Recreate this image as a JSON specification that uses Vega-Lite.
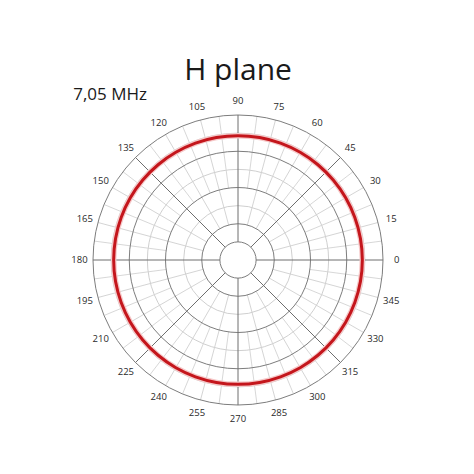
{
  "$schema": "https://vega.github.io/schema/vega-lite/v6.json",
  "width": 290,
  "height": 290,
  "autosize": {"type": "none"},
  "padding": {"left": 93, "top": 115, "right": 91, "bottom": 69},
  "background": "white",
  "config": {"view": {"stroke": null}, "font": "Open Sans"},
  "title": {"text": "H plane", "fontSize": 30, "font": "Open Sans", "fontWeight": "normal", "color": "#1a1a1a", "anchor": "middle", "frame": "group", "offset": 0},
  "datasets": {
    "rings_major": [{"r": 1}, {"r": 2}, {"r": 4}, {"r": 6}, {"r": 8}],
    "rings_minor": [{"r": 3}, {"r": 5}, {"r": 7}],
    "spokes_major": [{"angle": 0}, {"angle": 45}, {"angle": 90}, {"angle": 135}, {"angle": 180}, {"angle": 225}, {"angle": 270}, {"angle": 315}],
    "spokes_15": [{"angle": 15}, {"angle": 30}, {"angle": 60}, {"angle": 75}, {"angle": 105}, {"angle": 120}, {"angle": 150}, {"angle": 165}, {"angle": 195}, {"angle": 210}, {"angle": 240}, {"angle": 255}, {"angle": 285}, {"angle": 300}, {"angle": 330}, {"angle": 345}],
    "spokes_7": [{"angle": 7.5}, {"angle": 22.5}, {"angle": 37.5}, {"angle": 52.5}, {"angle": 67.5}, {"angle": 82.5}, {"angle": 97.5}, {"angle": 112.5}, {"angle": 127.5}, {"angle": 142.5}, {"angle": 157.5}, {"angle": 172.5}, {"angle": 187.5}, {"angle": 202.5}, {"angle": 217.5}, {"angle": 232.5}, {"angle": 247.5}, {"angle": 262.5}, {"angle": 277.5}, {"angle": 292.5}, {"angle": 307.5}, {"angle": 322.5}, {"angle": 337.5}, {"angle": 352.5}],
    "pattern": [
      {"angle": 0, "gain": 6.86}, {"angle": 10, "gain": 6.86}, {"angle": 20, "gain": 6.86}, {"angle": 30, "gain": 6.86},
      {"angle": 40, "gain": 6.86}, {"angle": 50, "gain": 6.86}, {"angle": 60, "gain": 6.86}, {"angle": 70, "gain": 6.86},
      {"angle": 80, "gain": 6.86}, {"angle": 90, "gain": 6.86}, {"angle": 100, "gain": 6.86}, {"angle": 110, "gain": 6.86},
      {"angle": 120, "gain": 6.86}, {"angle": 130, "gain": 6.86}, {"angle": 140, "gain": 6.86}, {"angle": 150, "gain": 6.86},
      {"angle": 160, "gain": 6.86}, {"angle": 170, "gain": 6.86}, {"angle": 180, "gain": 6.86}, {"angle": 190, "gain": 6.86},
      {"angle": 200, "gain": 6.86}, {"angle": 210, "gain": 6.86}, {"angle": 220, "gain": 6.86}, {"angle": 230, "gain": 6.86},
      {"angle": 240, "gain": 6.86}, {"angle": 250, "gain": 6.86}, {"angle": 260, "gain": 6.86}, {"angle": 270, "gain": 6.86},
      {"angle": 280, "gain": 6.86}, {"angle": 290, "gain": 6.86}, {"angle": 300, "gain": 6.86}, {"angle": 310, "gain": 6.86},
      {"angle": 320, "gain": 6.86}, {"angle": 330, "gain": 6.86}, {"angle": 340, "gain": 6.86}, {"angle": 350, "gain": 6.86}
    ],
    "labels": [{"angle": 0}, {"angle": 15}, {"angle": 30}, {"angle": 45}, {"angle": 60}, {"angle": 75}, {"angle": 90}, {"angle": 105}, {"angle": 120}, {"angle": 135}, {"angle": 150}, {"angle": 165}, {"angle": 180}, {"angle": 195}, {"angle": 210}, {"angle": 225}, {"angle": 240}, {"angle": 255}, {"angle": 270}, {"angle": 285}, {"angle": 300}, {"angle": 315}, {"angle": 330}, {"angle": 345}],
    "freq": [{"label": "7,05 MHz"}]
  },
  "layer": [
    {
      "data": {"name": "rings_minor"},
      "mark": {"type": "point", "shape": "circle", "filled": false, "color": "#c9c9c9", "opacity": 1, "strokeWidth": 0.9},
      "encoding": {
        "x": {"datum": 0, "type": "quantitative", "scale": {"domain": [-8, 8], "nice": false, "zero": false}, "axis": null},
        "y": {"datum": 0, "type": "quantitative", "scale": {"domain": [-8, 8], "nice": false, "zero": false}, "axis": null},
        "size": {"field": "r", "type": "quantitative", "scale": {"type": "pow", "exponent": 2, "domain": [0, 8], "range": [0, 84100], "zero": true}, "legend": null}
      }
    },
    {
      "data": {"name": "spokes_7"},
      "transform": [
        {"calculate": "4*cos(datum.angle*PI/180)", "as": "xa"},
        {"calculate": "4*sin(datum.angle*PI/180)", "as": "ya"},
        {"calculate": "8*cos(datum.angle*PI/180)", "as": "xb"},
        {"calculate": "8*sin(datum.angle*PI/180)", "as": "yb"}
      ],
      "mark": {"type": "rule", "color": "#d2d2d2", "strokeWidth": 0.9},
      "encoding": {
        "x": {"field": "xa", "type": "quantitative", "axis": null},
        "y": {"field": "ya", "type": "quantitative", "axis": null},
        "x2": {"field": "xb"},
        "y2": {"field": "yb"}
      }
    },
    {
      "data": {"name": "spokes_15"},
      "transform": [
        {"calculate": "2*cos(datum.angle*PI/180)", "as": "xa"},
        {"calculate": "2*sin(datum.angle*PI/180)", "as": "ya"},
        {"calculate": "8*cos(datum.angle*PI/180)", "as": "xb"},
        {"calculate": "8*sin(datum.angle*PI/180)", "as": "yb"}
      ],
      "mark": {"type": "rule", "color": "#cfcfcf", "strokeWidth": 0.9},
      "encoding": {
        "x": {"field": "xa", "type": "quantitative", "axis": null},
        "y": {"field": "ya", "type": "quantitative", "axis": null},
        "x2": {"field": "xb"},
        "y2": {"field": "yb"}
      }
    },
    {
      "data": {"name": "rings_major"},
      "mark": {"type": "point", "shape": "circle", "filled": false, "color": "#7d7d7d", "opacity": 1, "strokeWidth": 1},
      "encoding": {
        "x": {"datum": 0, "type": "quantitative", "axis": null},
        "y": {"datum": 0, "type": "quantitative", "axis": null},
        "size": {"field": "r", "type": "quantitative", "legend": null}
      }
    },
    {
      "data": {"name": "spokes_major"},
      "transform": [
        {"calculate": "1*cos(datum.angle*PI/180)", "as": "xa"},
        {"calculate": "1*sin(datum.angle*PI/180)", "as": "ya"},
        {"calculate": "8*cos(datum.angle*PI/180)", "as": "xb"},
        {"calculate": "8*sin(datum.angle*PI/180)", "as": "yb"}
      ],
      "mark": {"type": "rule", "color": "#6e6e6e", "strokeWidth": 1},
      "encoding": {
        "x": {"field": "xa", "type": "quantitative", "axis": null},
        "y": {"field": "ya", "type": "quantitative", "axis": null},
        "x2": {"field": "xb"},
        "y2": {"field": "yb"}
      }
    },
    {
      "data": {"name": "pattern"},
      "transform": [
        {"calculate": "datum.gain*cos(datum.angle*PI/180)", "as": "px"},
        {"calculate": "datum.gain*sin(datum.angle*PI/180)", "as": "py"}
      ],
      "mark": {"type": "line", "color": "#f6c9c9", "strokeWidth": 5.5, "interpolate": "cardinal-closed"},
      "encoding": {
        "x": {"field": "px", "type": "quantitative", "axis": null},
        "y": {"field": "py", "type": "quantitative", "axis": null},
        "order": {"field": "angle", "type": "quantitative"}
      }
    },
    {
      "data": {"name": "pattern"},
      "transform": [
        {"calculate": "datum.gain*cos(datum.angle*PI/180)", "as": "px"},
        {"calculate": "datum.gain*sin(datum.angle*PI/180)", "as": "py"}
      ],
      "mark": {"type": "line", "color": "#c4161c", "strokeWidth": 3, "interpolate": "cardinal-closed"},
      "encoding": {
        "x": {"field": "px", "type": "quantitative", "axis": null},
        "y": {"field": "py", "type": "quantitative", "axis": null},
        "order": {"field": "angle", "type": "quantitative"}
      }
    },
    {
      "data": {"name": "labels"},
      "transform": [
        {"calculate": "8.75*cos(datum.angle*PI/180)", "as": "lx"},
        {"calculate": "8.75*sin(datum.angle*PI/180)", "as": "ly"}
      ],
      "mark": {"type": "text", "fontSize": 9.5, "font": "Open Sans", "color": "#2a2a2a", "align": "center", "baseline": "middle"},
      "encoding": {
        "x": {"field": "lx", "type": "quantitative", "axis": null},
        "y": {"field": "ly", "type": "quantitative", "axis": null},
        "text": {"field": "angle", "type": "quantitative"}
      }
    },
    {
      "data": {"name": "freq"},
      "mark": {"type": "text", "fontSize": 17, "font": "Open Sans", "color": "#1a1a1a", "align": "left", "baseline": "alphabetic"},
      "encoding": {
        "x": {"datum": -9.09, "type": "quantitative"},
        "y": {"datum": 8.84, "type": "quantitative"},
        "text": {"field": "label"}
      }
    }
  ]
}
